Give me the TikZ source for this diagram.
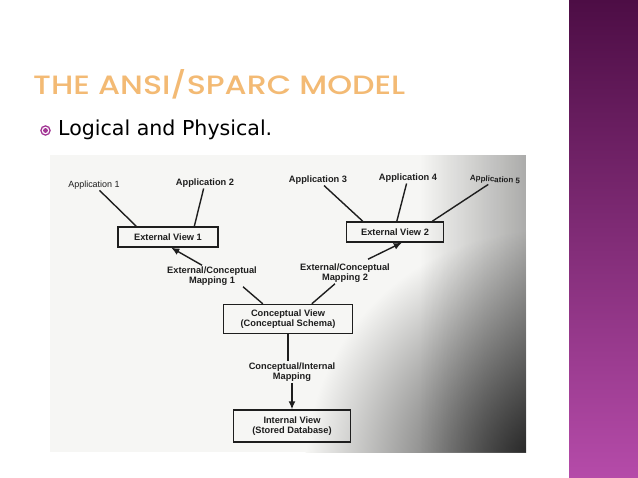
\documentclass[tikz,border=0pt]{standalone}
\usepackage{fontspec}
\setmainfont{DejaVu Sans}
\newfontfamily\diag{Liberation Sans}
\newfontfamily\titlef{Poppins}[UprightFont={* Medium}]
\usetikzlibrary{arrows.meta,fadings}
\definecolor{ink}{HTML}{1E1E1E}
\definecolor{photo}{HTML}{F6F6F4}
\definecolor{bartop}{HTML}{4D0D45}
\definecolor{barbot}{HTML}{B54BA9}
\definecolor{titlec}{HTML}{F3BA74}
\definecolor{bulletc}{HTML}{A23594}
\tikzfading[name=fadeE, left color=transparent!100, right color=transparent!0]
\tikzset{
  box/.style={draw=ink, line width=1.4bp, inner sep=0pt, align=center,
    font=\diag\bfseries\fontsize{9.3}{10.5}\selectfont, text=ink},
  lbl/.style={font=\diag\bfseries\fontsize{9.3}{10.5}\selectfont, text=ink,
    align=center, inner sep=1bp},
  lblr/.style={font=\diag\fontsize{9}{10}\selectfont, text=ink,
    align=center, inner sep=1bp},
  con/.style={draw=ink, line width=1.4bp},
  arr/.style={con, -{Latex[length=8bp,width=7bp]}}
}
\begin{document}
\begin{tikzpicture}[x=1bp,y=-1bp]
\useasboundingbox (0,0) rectangle (638,478);
\fill[white] (0,0) rectangle (638,478);
% side bar
\shade[top color=bartop, bottom color=barbot] (569,0) rectangle (638,478);
% title
\node[anchor=north west, inner sep=0pt, text=titlec] (title) at (33,69)
  {\resizebox{372bp}{25bp}{\titlef THE ANSI/SPARC MODEL}};
% bullet
\draw[bulletc, line width=1.3bp] (45.5,130.5) circle (4.6);
\fill[bulletc] (45.5,130.5) circle (2.4);
\node[anchor=base west, inner sep=0pt] (bul) at (58,136)
  {\resizebox{214bp}{!}{Logical and Physical.}};
% photo background
\fill[photo] (50,155) rectangle (526,452);
\begin{scope}
  \clip (50,155) rectangle (526,452);
  \shade[inner color=black!85, outer color=photo] (545,470) circle (240);
  \fill[black, opacity=0.3, path fading=fadeE] (420,155) rectangle (526,452);
\end{scope}
% applications
\node[lblr] (a1) at (94,185) {Application 1};
\node[lbl] (a2) at (205,183) {Application 2};
\node[lbl] (a3) at (318,180) {Application 3};
\node[lbl] (a4) at (408,178) {Application 4};
\node[lbl, rotate=-4, font=\diag\bfseries\fontsize{8}{9}\selectfont] (a5) at (495,180) {Application 5};
% external views
\node[box, minimum width=100bp, minimum height=20bp] (ev1) at (168,237) {External View 1};
\node[box, minimum width=97bp, minimum height=20bp] (ev2) at (395,232) {External View 2};
% mappings
\node[lbl] (m1) at (212,276) {External/Conceptual\\Mapping 1};
\node[lbl] (m2) at (345,273) {External/Conceptual\\Mapping 2};
% conceptual view
\node[box, minimum width=129bp, minimum height=29bp] (cv) at (288,319) {Conceptual View\\(Conceptual Schema)};
\node[lbl] (ci) at (292,372) {Conceptual/Internal\\Mapping};
\node[box, minimum width=117bp, minimum height=32bp] (iv) at (292,426) {Internal View\\(Stored Database)};
% connectors
\draw[con] (a1) -- ([xshift=19bp]ev1.north west);
\draw[con] (a2) -- ([xshift=77bp]ev1.north west);
\draw[con] (a3) -- ([xshift=17bp]ev2.north west);
\draw[con] (a4) -- ([xshift=51bp]ev2.north west);
\draw[con] (a5) -- ([xshift=-12bp]ev2.north east);
\draw[arr] ([xshift=-10bp]m1.north) -- ([xshift=54bp]ev1.south west);
\draw[arr] ([xshift=23bp,yshift=3bp]m2.north) -- ([xshift=56bp]ev2.south west);
\draw[con] ([xshift=31bp]m1.south) -- ([xshift=40bp]cv.north west);
\draw[con] ([xshift=-10bp]m2.south) -- ([xshift=89bp]cv.north west);
\draw[con] (cv.south) -- (cv.south |- ci.north);
\draw[arr] (ci.south) -- (iv.north);
\end{tikzpicture}
\end{document}
